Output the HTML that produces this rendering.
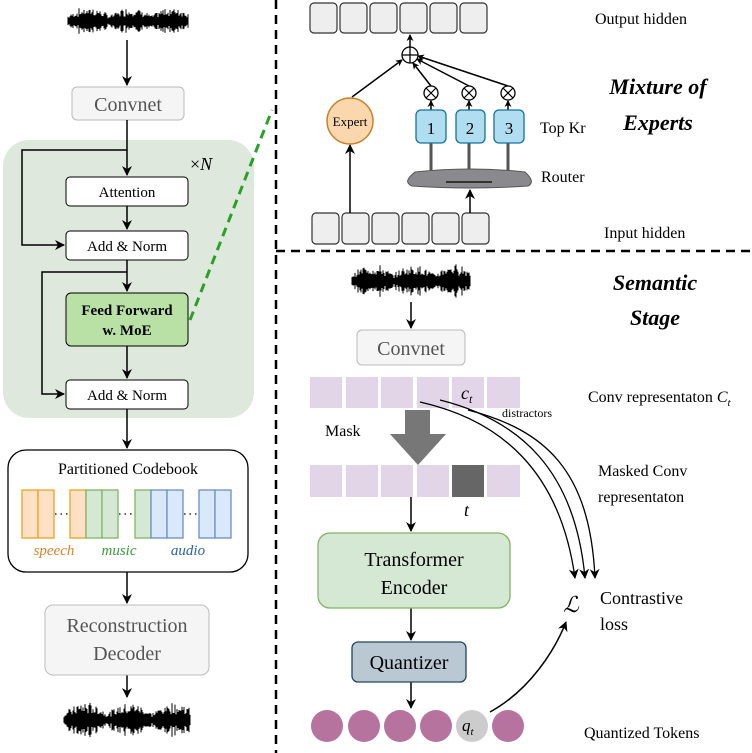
<!DOCTYPE html>
<html><head><meta charset="utf-8"><style>
html,body{margin:0;padding:0;background:#fff;}
svg{display:block;font-family:"Liberation Serif",serif;}
</style></head><body>
<svg id="s" width="752" height="753" viewBox="0 0 752 753" xmlns="http://www.w3.org/2000/svg">
<defs>
<marker id="a" markerWidth="10" markerHeight="10" refX="9" refY="5" orient="auto" markerUnits="userSpaceOnUse"><path d="M0,0 L10,5 L0,10 L3,5 z" fill="#000"/></marker>
<marker id="as" markerWidth="7" markerHeight="7" refX="6" refY="3.5" orient="auto" markerUnits="userSpaceOnUse"><path d="M0,0 L7,3.5 L0,7 L2,3.5 z" fill="#000"/></marker>
</defs>
<g id="waves"></g>
<line x1="127" y1="40" x2="127" y2="85" stroke="#000" stroke-width="1.5" marker-end="url(#a)"/>
<rect x="72" y="87" width="112" height="33" rx="5" fill="#f5f5f5" stroke="#bbb"/>
<text x="128" y="111" font-size="20" fill="#555" text-anchor="middle">Convnet</text>
<rect x="3" y="140" width="251" height="278" rx="26" fill="#dfe8dd"/>
<text x="190" y="170" font-size="18">×<tspan font-style="italic">N</tspan></text>
<g stroke="#000" stroke-width="1.5" fill="none">
<line x1="127" y1="120" x2="127" y2="175" marker-end="url(#a)"/>
<polyline points="127,150 22,150 22,245 64,245" marker-end="url(#a)"/>
<line x1="127" y1="206" x2="127" y2="229" marker-end="url(#a)"/>
<line x1="127" y1="260" x2="127" y2="291" marker-end="url(#a)"/>
<polyline points="127,272 42,272 42,394 64,394" marker-end="url(#a)"/>
<line x1="127" y1="346" x2="127" y2="378" marker-end="url(#a)"/>
<line x1="127" y1="409" x2="127" y2="448" marker-end="url(#a)"/>
<line x1="127" y1="572" x2="127" y2="603" marker-end="url(#a)"/>
<line x1="127" y1="675" x2="127" y2="697" marker-end="url(#a)"/>
</g>
<rect x="66" y="177" width="122" height="29" rx="4" fill="#fff" stroke="#000"/>
<text x="127" y="197" font-size="15" text-anchor="middle">Attention</text>
<rect x="66" y="231" width="122" height="29" rx="4" fill="#fff" stroke="#000"/>
<text x="127" y="251" font-size="15" text-anchor="middle">Add &amp; Norm</text>
<rect x="66" y="293" width="122" height="53" rx="5" fill="#b9e0a5" stroke="#000"/>
<text x="127" y="315" font-size="15" font-weight="bold" text-anchor="middle">Feed Forward</text>
<text x="127" y="335" font-size="15" font-weight="bold" text-anchor="middle">w. MoE</text>
<rect x="66" y="380" width="122" height="29" rx="4" fill="#fff" stroke="#000"/>
<text x="127" y="400" font-size="15" text-anchor="middle">Add &amp; Norm</text>
<rect x="8" y="450" width="240" height="122" rx="18" fill="#fff" stroke="#000" stroke-width="1.3"/>
<text x="128" y="474" font-size="16" text-anchor="middle">Partitioned Codebook</text>
<g stroke-width="1.3">
<rect x="22" y="490" width="16" height="48" fill="#ffe0c4" stroke="#e6a520"/><rect x="38" y="490" width="16" height="48" fill="#ffe0c4" stroke="#e6a520"/>
<rect x="70" y="490" width="16" height="48" fill="#ffe0c4" stroke="#e6a520"/>
<rect x="86" y="490" width="16" height="48" fill="#d5e8d4" stroke="#82b366"/><rect x="102" y="490" width="16" height="48" fill="#d5e8d4" stroke="#82b366"/>
<rect x="135" y="490" width="16" height="48" fill="#d5e8d4" stroke="#82b366"/>
<rect x="151" y="490" width="16" height="48" fill="#dae8fc" stroke="#6c8ebf"/><rect x="167" y="490" width="16" height="48" fill="#dae8fc" stroke="#6c8ebf"/>
<rect x="199" y="490" width="16" height="48" fill="#dae8fc" stroke="#6c8ebf"/><rect x="215" y="490" width="16" height="48" fill="#dae8fc" stroke="#6c8ebf"/>
</g>
<g stroke="#000" stroke-width="1.3" stroke-dasharray="1.5,4"><line x1="55" y1="514" x2="70" y2="514"/><line x1="119" y1="514" x2="135" y2="514"/><line x1="184" y1="514" x2="199" y2="514"/></g>
<text x="54" y="555" font-size="15" font-style="italic" fill="#d9822b" text-anchor="middle">speech</text>
<text x="119" y="555" font-size="15" font-style="italic" fill="#3c9a3c" text-anchor="middle">music</text>
<text x="188" y="555" font-size="15" font-style="italic" fill="#2b63a8" text-anchor="middle">audio</text>
<rect x="45" y="605" width="164" height="70" rx="8" fill="#f5f5f5" stroke="#bbb"/>
<text x="127" y="632" font-size="20" fill="#555" text-anchor="middle">Reconstruction</text>
<text x="127" y="660" font-size="20" fill="#555" text-anchor="middle">Decoder</text>
<line x1="276" y1="0" x2="276" y2="753" stroke="#000" stroke-width="2.5" stroke-dasharray="9,6"/>
<line x1="276" y1="251" x2="752" y2="251" stroke="#000" stroke-width="2.5" stroke-dasharray="9,6"/>
<line x1="190" y1="320" x2="272" y2="110" stroke="#2aa02a" stroke-width="3" stroke-dasharray="9,6"/>
<g id="hid" fill="#eee" stroke="#333" stroke-width="1.2"></g>
<text x="595" y="24" font-size="16">Output hidden</text>
<text x="604" y="238" font-size="16">Input hidden</text>
<text x="658" y="94" font-size="22" font-weight="bold" font-style="italic" text-anchor="middle">Mixture of</text>
<text x="658" y="130" font-size="22" font-weight="bold" font-style="italic" text-anchor="middle">Experts</text>
<g stroke="#000" stroke-width="1.5" fill="none">
<line x1="410" y1="47" x2="410" y2="35" marker-end="url(#as)"/>
<line x1="352" y1="97" x2="402" y2="60" marker-end="url(#as)"/>
<line x1="431" y1="86" x2="413" y2="63" marker-end="url(#as)"/>
<line x1="469" y1="86" x2="417" y2="59" marker-end="url(#as)"/>
<line x1="508" y1="86" x2="418" y2="56" marker-end="url(#as)"/>
<line x1="350" y1="213" x2="350" y2="145" marker-end="url(#a)"/>
<line x1="470" y1="213" x2="470" y2="190" marker-end="url(#a)"/>
<line x1="431" y1="110" x2="431" y2="101" marker-end="url(#as)"/>
<line x1="469" y1="110" x2="469" y2="101" marker-end="url(#as)"/>
<line x1="508" y1="110" x2="508" y2="101" marker-end="url(#as)"/>
</g>
<circle cx="410" cy="55" r="8" fill="#fff" stroke="#000" stroke-width="1.3"/><path d="M402,55H418M410,47V63" stroke="#000" stroke-width="1.3"/>
<g fill="#fff" stroke="#000" stroke-width="1.3">
<circle cx="431" cy="93" r="7"/><circle cx="469" cy="93" r="7"/><circle cx="508" cy="93" r="7"/>
</g>
<path d="M426,88L436,98M436,88L426,98M464,88L474,98M474,88L464,98M503,88L513,98M513,88L503,98" stroke="#000" stroke-width="1.2"/>
<circle cx="350" cy="121" r="23" fill="#fad7ac" stroke="#c9822b" stroke-width="1.5"/>
<text x="350" y="126" font-size="13" text-anchor="middle">Expert</text>
<g stroke="#555" stroke-width="3"><line x1="431" y1="143" x2="431" y2="174"/><line x1="469" y1="143" x2="469" y2="174"/><line x1="508" y1="143" x2="508" y2="174"/></g>
<g fill="#b1ddf0" stroke="#10739e" stroke-width="1.3">
<rect x="416" y="110" width="30" height="33" rx="5"/><rect x="456" y="110" width="29" height="33" rx="5"/><rect x="494" y="110" width="30" height="33" rx="5"/>
</g>
<text x="431" y="134" font-size="17" text-anchor="middle">1</text><text x="470" y="134" font-size="17" text-anchor="middle">2</text><text x="509" y="134" font-size="17" text-anchor="middle">3</text>
<path d="M415,172 Q470,166 525,172 Q536,182 528,186 Q470,190 412,186 Q402,182 415,172z" fill="#8a8a8e" stroke="#555"/>
<line x1="446" y1="182" x2="492" y2="182" stroke="#333" stroke-width="2"/>
<text x="540" y="133" font-size="16">Top Kr</text>
<text x="541" y="182" font-size="16">Router</text>
<text x="655" y="290" font-size="22" font-weight="bold" font-style="italic" text-anchor="middle">Semantic</text>
<text x="655" y="325" font-size="22" font-weight="bold" font-style="italic" text-anchor="middle">Stage</text>
<g stroke="#000" stroke-width="1.5" fill="none">
<line x1="411" y1="302" x2="411" y2="328" marker-end="url(#a)"/>
<line x1="411" y1="497" x2="411" y2="531" marker-end="url(#a)"/>
<line x1="411" y1="608" x2="411" y2="640" marker-end="url(#a)"/>
<line x1="411" y1="682" x2="411" y2="708" marker-end="url(#a)"/>
</g>
<rect x="357" y="330" width="108" height="35" rx="5" fill="#f5f5f5" stroke="#bbb"/>
<text x="411" y="355" font-size="20" fill="#555" text-anchor="middle">Convnet</text>
<g fill="#e1d5e7">
<rect x="310" y="377" width="32" height="31"/><rect x="346" y="377" width="32" height="31"/><rect x="381" y="377" width="32" height="31"/><rect x="417" y="377" width="32" height="31"/><rect x="452" y="377" width="32" height="31"/><rect x="487" y="377" width="33" height="31"/>
<rect x="310" y="465" width="32" height="32"/><rect x="346" y="465" width="32" height="32"/><rect x="381" y="465" width="32" height="32"/><rect x="417" y="465" width="32" height="32"/><rect x="487" y="465" width="33" height="32"/>
</g>
<rect x="452" y="465" width="32" height="32" fill="#666"/>
<text x="461" y="399" font-size="18" font-style="italic">c<tspan font-size="12" dy="4">t</tspan></text>
<text x="464" y="516" font-size="18" font-style="italic">t</text>
<path d="M405,410H430V434H446L418,465L390,434H405Z" fill="#777"/>
<text x="325" y="436" font-size="16">Mask</text>
<text x="588" y="402" font-size="16">Conv representaton <tspan font-style="italic">C</tspan><tspan font-style="italic" font-size="11" dy="4">t</tspan></text>
<text x="502" y="417" font-size="12">distractors</text>
<text x="598" y="476" font-size="16">Masked Conv</text>
<text x="598" y="502" font-size="16">representaton</text>
<g stroke="#000" stroke-width="1.3" fill="none">
<path d="M420,402 C500,420 560,470 575,578" marker-end="url(#a)"/>
<path d="M440,400 C520,420 575,470 585,578" marker-end="url(#a)"/>
<path d="M468,410 C545,430 590,470 595,578" marker-end="url(#a)"/>
<path d="M490,712 C530,690 555,650 566,622" marker-end="url(#a)" stroke-width="1.5"/>
</g>
<rect x="318" y="533" width="192" height="75" rx="12" fill="#d5e8d4" stroke="#82b366" stroke-width="1.3"/>
<text x="414" y="566" font-size="20" text-anchor="middle">Transformer</text>
<text x="414" y="594" font-size="20" text-anchor="middle">Encoder</text>
<rect x="352" y="642" width="114" height="40" rx="6" fill="#bac8d3" stroke="#23445d" stroke-width="1.3"/>
<text x="409" y="669" font-size="20" text-anchor="middle">Quantizer</text>
<g fill="#b5739d"><circle cx="327" cy="726" r="16"/><circle cx="364" cy="726" r="16"/><circle cx="400" cy="726" r="16"/><circle cx="436" cy="726" r="16"/><circle cx="508" cy="726" r="16"/></g>
<circle cx="472" cy="726" r="16" fill="#ccc"/>
<text x="462" y="731" font-size="17" font-style="italic">q<tspan font-size="11" dy="4">t</tspan></text>
<text x="584" y="738" font-size="16">Quantized Tokens</text>
<text x="563" y="612" font-size="22" font-style="italic">ℒ</text>
<text x="600" y="604" font-size="18">Contrastive</text>
<text x="600" y="630" font-size="18">loss</text>
</svg>
<script>
(function(){
var ns="http://www.w3.org/2000/svg";
var hid=document.getElementById("hid");
for(var i=0;i<6;i++){
 var r=document.createElementNS(ns,"rect");r.setAttribute("x",310+i*30);r.setAttribute("y",3);r.setAttribute("width",27);r.setAttribute("height",30);r.setAttribute("rx",4);hid.appendChild(r);
 var r2=document.createElementNS(ns,"rect");r2.setAttribute("x",312+i*30);r2.setAttribute("y",213);r2.setAttribute("width",27);r2.setAttribute("height",31);r2.setAttribute("rx",4);hid.appendChild(r2);
}
var seed=7;function rnd(){seed=(seed*9301+49297)%233280;return seed/233280;}
function wave(x0,x1,cy,h){var d="";for(var x=x0;x<=x1;x+=1){var t=(x-x0)/(x1-x0);var env=0.35+0.65*Math.abs(Math.sin(t*9))*(0.5+rnd()*0.5);var a=h*env*(0.4+rnd()*0.6);d+="M"+x+","+(cy-a)+"V"+(cy+a);}
var p=document.createElementNS(ns,"path");p.setAttribute("d",d);p.setAttribute("stroke","#000");p.setAttribute("stroke-width","1");document.getElementById("waves").appendChild(p);}
wave(68,188,21,16);wave(64,190,720,20);wave(352,470,281,19);
})();
</script>
</body></html>
